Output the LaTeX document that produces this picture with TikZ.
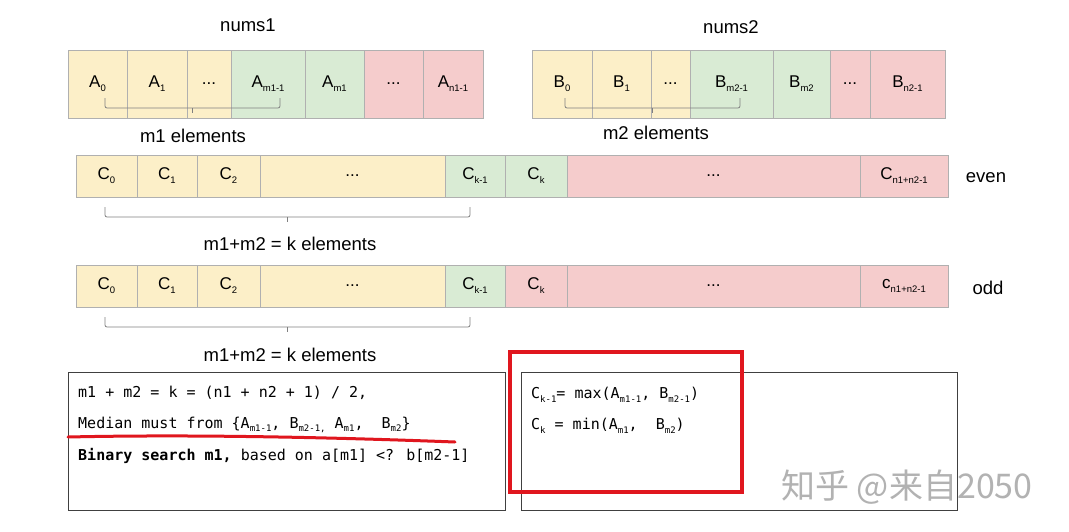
\documentclass[tikz,border=0pt]{standalone}
\usepackage{fontspec}
\setmainfont{Liberation Sans}
\newfontfamily\cjkf{Noto Sans CJK SC}
\newfontfamily\monof{DejaVu Sans Mono}
\definecolor{cy}{HTML}{FCEFC8}
\definecolor{cg}{HTML}{D9EBD4}
\definecolor{cr}{HTML}{F5CCCC}
\definecolor{bd}{HTML}{B0B0B0}
\definecolor{mk}{HTML}{E0161E}
\newcommand{\sbs}[1]{\raisebox{-0.45ex}{\fontsize{9.5}{9.5}\selectfont #1}}
\newcommand{\msb}[1]{\raisebox{-0.45ex}{\fontsize{9}{9}\selectfont #1}}
\tikzset{cellbox/.style={draw=bd,line width=0.6pt,inner sep=0pt,font=\fontsize{17}{17}\selectfont},
 brace/.style={draw=gray,line width=0.8pt,rounded corners=2pt},
 lbl/.style={font=\fontsize{18.5}{18.5}\selectfont},
 txtbox/.style={draw=black!75,line width=0.8pt},
 code/.style={font=\monof\fontsize{15}{15}\selectfont,anchor=west,inner sep=0pt}}
\newcommand{\mycell}[7]{\node[cellbox,fill=#6,minimum width={#3-#2},minimum height={#5-#4}] (#1) at ({(#2+#3)/2},{(#4+#5)/2}) {#7};}
\newcommand{\mybrace}[5]{\draw[brace] (#2,#4) -- (#2,#5) -- (#3,#5) -- (#3,#4);
 \coordinate (#1) at ({(#2+#3)/2},#5);
 \draw[draw=gray,line width=0.8pt] (#1) -- ++(0,5);}
\begin{document}
\begin{tikzpicture}[x=1pt,y=-1pt]
\useasboundingbox[fill=white] (0,0) rectangle (1069,531);
% nums1
\node[lbl] (n1) at (248,25) {nums1};
\mycell{a0}{68}{127}{50}{118}{cy}{A\sbs{0}}
\mycell{a1}{127}{187}{50}{118}{cy}{A\sbs{1}}
\mycell{a2}{187}{231}{50}{118}{cy}{...}
\mycell{a3}{231}{305}{50}{118}{cg}{A\sbs{m1-1}}
\mycell{a4}{305}{364}{50}{118}{cg}{A\sbs{m1}}
\mycell{a5}{364}{423}{50}{118}{cr}{...}
\mycell{a6}{423}{483}{50}{118}{cr}{A\sbs{n1-1}}
\mybrace{b1}{105}{280}{98}{108}
\node[lbl] (m1e) at (193,136) {m1 elements};
% nums2
\node[lbl] (n2) at (731,27) {nums2};
\mycell{b0}{532}{592}{50}{118}{cy}{B\sbs{0}}
\mycell{b1c}{592}{651}{50}{118}{cy}{B\sbs{1}}
\mycell{b2}{651}{690}{50}{118}{cy}{...}
\mycell{b3}{690}{773}{50}{118}{cg}{B\sbs{m2-1}}
\mycell{b4}{773}{830}{50}{118}{cg}{B\sbs{m2}}
\mycell{b5}{830}{870}{50}{118}{cr}{...}
\mycell{b6}{870}{945}{50}{118}{cr}{B\sbs{n2-1}}
\mybrace{b2b}{565}{740}{98}{108}
\node[lbl] (m2e) at (656,133) {m2 elements};
% even
\mycell{e0}{76}{137}{155}{197}{cy}{C\sbs{0}}
\mycell{e1}{137}{197}{155}{197}{cy}{C\sbs{1}}
\mycell{e2}{197}{260}{155}{197}{cy}{C\sbs{2}}
\mycell{e3}{260}{445}{155}{197}{cy}{...}
\mycell{e4}{445}{505}{155}{197}{cg}{C\sbs{k-1}}
\mycell{e5}{505}{567}{155}{197}{cg}{C\sbs{k}}
\mycell{e6}{567}{860}{155}{197}{cr}{...}
\mycell{e7}{860}{948}{155}{197}{cr}{C\sbs{n1+n2-1}}
\node[lbl] (ev) at (986,178) {even};
\mybrace{be}{105}{470}{207}{217}
\node[lbl] (ke) at (290,244) {m1+m2 = k elements};
% odd
\mycell{o0}{76}{137}{265}{307}{cy}{C\sbs{0}}
\mycell{o1}{137}{197}{265}{307}{cy}{C\sbs{1}}
\mycell{o2}{197}{260}{265}{307}{cy}{C\sbs{2}}
\mycell{o3}{260}{445}{265}{307}{cy}{...}
\mycell{o4}{445}{505}{265}{307}{cg}{C\sbs{k-1}}
\mycell{o5}{505}{567}{265}{307}{cr}{C\sbs{k}}
\mycell{o6}{567}{860}{265}{307}{cr}{...}
\mycell{o7}{860}{948}{265}{307}{cr}{c\sbs{n1+n2-1}}
\node[lbl] (od) at (988,288) {odd};
\mybrace{bo}{105}{470}{317}{327}
\node[lbl] (ko) at (290,355) {m1+m2 = k elements};
% boxes
\draw[txtbox] (68,372) rectangle (505,510);
\draw[txtbox] (521,372) rectangle (957,510);
\node[code] (l1) at (78,393) {m1 + m2 = k = (n1 + n2 + 1) / 2,};
\node[code] (l2) at (78,425) {Median must from \{A\msb{m1-1}, B\msb{m2-1,} A\msb{m1}, \ B\msb{m2}\}};
\node[code] (l3) at (78,456) {\textbf{Binary search m1,} based on a[m1] <? b[m2-1]};
\node[code] (r1) at (531,395) {C\msb{k-1}= max(A\msb{m1-1}, B\msb{m2-1})};
\node[code] (r2) at (531,426) {C\msb{k} = min(A\msb{m1}, \ B\msb{m2})};
% red marks
\draw[mk,line width=4pt] (510,352) rectangle (742,492);
\draw[mk,line width=3pt,line cap=round] (68,437) .. controls (200,434) and (350,438) .. (455,442);
\node[font=\cjkf\fontsize{34}{34}\selectfont,text=black!30] (wm) at (907,487) {知乎 @来自2050};
\end{tikzpicture}
\end{document}
